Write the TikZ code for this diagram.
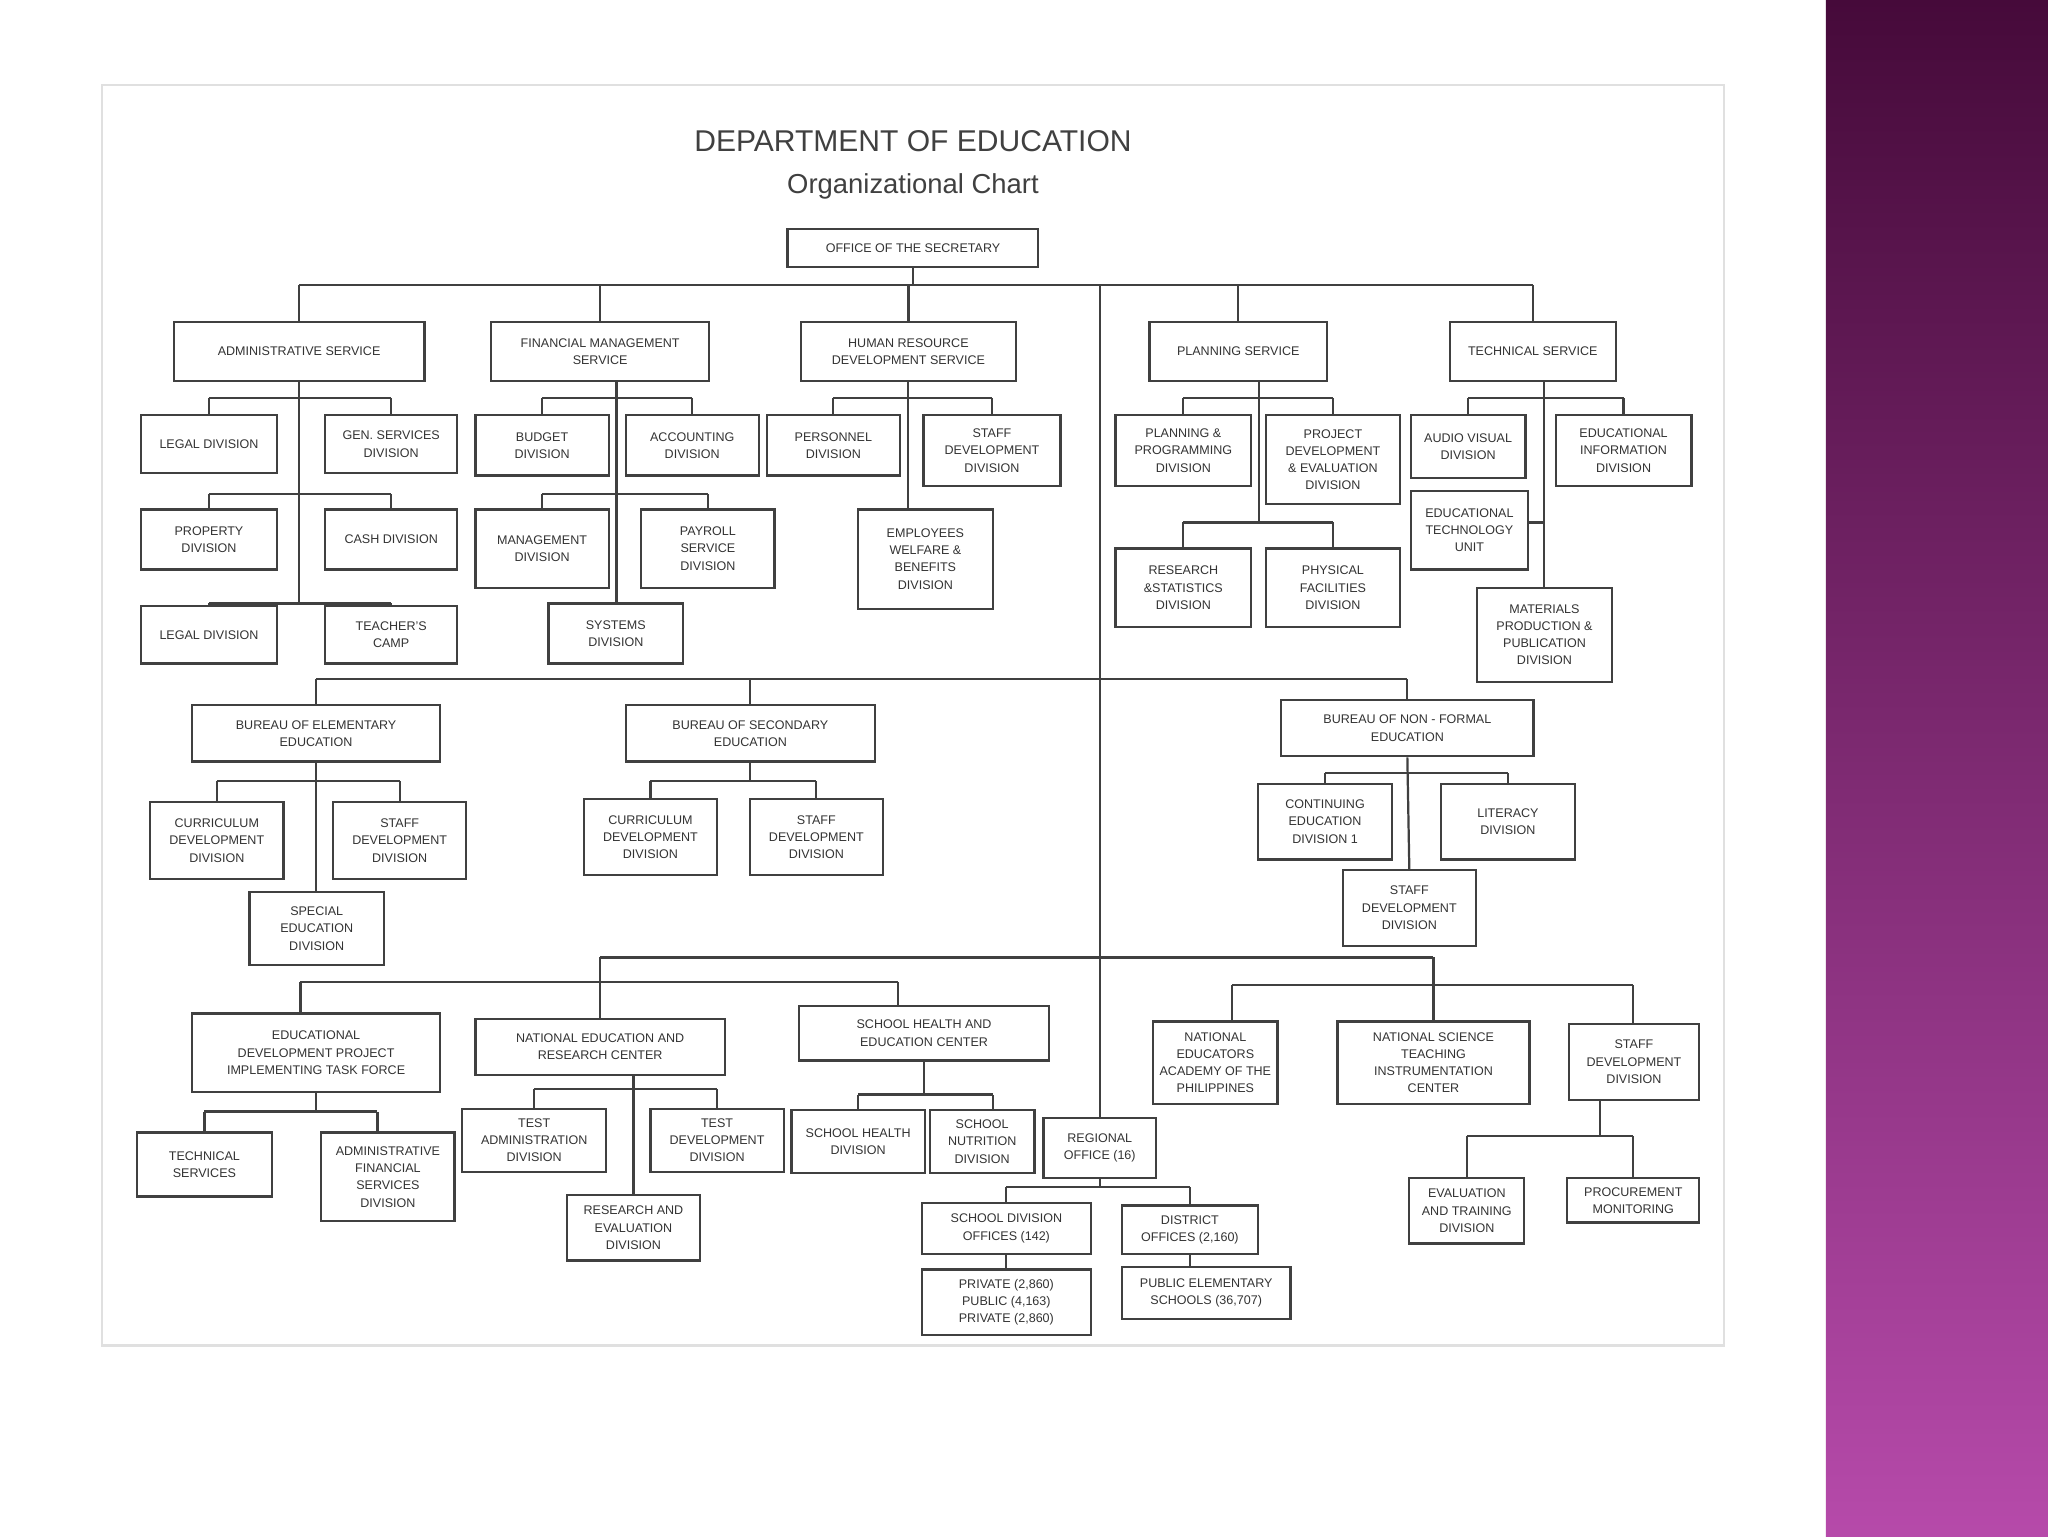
\documentclass[tikz,border=0pt]{standalone}
\usepackage{fontspec}
\setmainfont{Liberation Sans}
\begin{document}
\begin{tikzpicture}[x=1pt,y=-1pt,
  box/.style={draw=black!75,line width=1.7pt,fill=white,align=center,inner sep=1pt,
    font=\fontsize{9.6}{13.2}\selectfont,text=black!80},
  ln/.style={draw=black!75,line width=1.7pt}]
\newcommand\bx[6]{\node[box,minimum width=#4pt,minimum height=#5pt] (#1) at (#2,#3) {#6};}
\useasboundingbox (0,0) rectangle (1568,1176);
\fill[white] (0,0) rectangle (1568,1176);
\shade[top color={rgb,255:red,70;green,10;blue,58},bottom color={rgb,255:red,182;green,74;blue,170}] (1398,0) rectangle (1568,1176);
\draw[black!12,line width=2pt] (78,65) rectangle (1320,1030);
\node[text=black!75,font=\fontsize{23}{26}\selectfont] (t1) at (699,108) {DEPARTMENT OF EDUCATION};
\node[text=black!75,font=\fontsize{21}{24}\selectfont] (t2) at (699,143) {Organizational Chart};
\coordinate (tb) at (0,218);
\coordinate (b305) at (0,305);
\coordinate (b378) at (0,378);
\coordinate (b462) at (0,462);
\coordinate (b400) at (0,400);
\coordinate (b520) at (0,520);
\coordinate (b598) at (0,598);
\coordinate (b592) at (0,592);
\coordinate (b733) at (0,733);
\coordinate (b752) at (0,752);
\coordinate (b754) at (0,754);
\coordinate (b851) at (0,851);
\coordinate (b834) at (0,834);
\coordinate (b838) at (0,838);
\coordinate (b909) at (0,909);
\coordinate (b870) at (0,870);
\coordinate (xfin) at (472,0);
\coordinate (xhr) at (695,0);
\coordinate (xpl) at (964,0);
\coordinate (xte) at (1182,0);
\coordinate (xnerc) at (485,0);
\coordinate (xsd5) at (1225,0);
\bx{sec}{699}{190}{192}{29}{OFFICE OF THE SECRETARY}
\bx{adm}{229}{269}{192}{45}{ADMINISTRATIVE SERVICE}
\bx{fin}{459.5}{269}{167}{45}{FINANCIAL MANAGEMENT\\SERVICE}
\bx{hr}{695.5}{269}{165}{45}{HUMAN RESOURCE\\DEVELOPMENT SERVICE}
\bx{plan}{948}{269}{136}{45}{PLANNING SERVICE}
\bx{tech}{1173.5}{269}{127}{45}{TECHNICAL SERVICE}
\bx{legA}{160}{340}{104}{44}{LEGAL DIVISION}
\bx{gen}{299.5}{340}{101}{44}{GEN. SERVICES\\DIVISION}
\bx{prop}{160}{413}{104}{46}{PROPERTY\\DIVISION}
\bx{cash}{299.5}{413}{101}{46}{CASH DIVISION}
\bx{legB}{160}{486}{104}{44}{LEGAL DIVISION}
\bx{teach}{299.5}{486}{101}{44}{TEACHER'S\\CAMP}
\bx{bud}{415}{341}{102}{46}{BUDGET\\DIVISION}
\bx{acct}{530}{341}{102}{46}{ACCOUNTING\\DIVISION}
\bx{mgmt}{415}{420}{102}{60}{MANAGEMENT\\DIVISION}
\bx{pay}{542}{420}{102}{60}{PAYROLL\\SERVICE\\DIVISION}
\bx{sys}{471.5}{485}{103}{46}{SYSTEMS\\DIVISION}
\bx{pers}{638}{341}{102}{46}{PERSONNEL\\DIVISION}
\bx{sdA}{759.5}{345}{105}{54}{STAFF\\DEVELOPMENT\\DIVISION}
\bx{emp}{708.5}{428}{103}{76}{EMPLOYEES\\WELFARE \&\\BENEFITS\\DIVISION}
\bx{pp}{906}{345}{104}{54}{PLANNING \&\\PROGRAMMING\\DIVISION}
\bx{pde}{1020.5}{352}{103}{68}{PROJECT\\DEVELOPMENT\\\& EVALUATION\\DIVISION}
\bx{rs}{906}{450}{104}{60}{RESEARCH\\\&STATISTICS\\DIVISION}
\bx{pf}{1020.5}{450}{103}{60}{PHYSICAL\\FACILITIES\\DIVISION}
\bx{av}{1124}{342}{88}{48}{AUDIO VISUAL\\DIVISION}
\bx{ei}{1243}{345}{104}{54}{EDUCATIONAL\\INFORMATION\\DIVISION}
\bx{et}{1125}{406}{90}{60}{EDUCATIONAL\\TECHNOLOGY\\UNIT}
\bx{mpp}{1182.5}{486}{103}{72}{MATERIALS\\PRODUCTION \&\\PUBLICATION\\DIVISION}
\bx{bel}{242}{561.5}{190}{43}{BUREAU OF ELEMENTARY\\EDUCATION}
\bx{bse}{574.5}{561.5}{191}{43}{BUREAU OF SECONDARY\\EDUCATION}
\bx{bnf}{1077.5}{557.5}{193}{43}{BUREAU OF NON - FORMAL\\EDUCATION}
\bx{cdA}{166}{643.5}{102}{59}{CURRICULUM\\DEVELOPMENT\\DIVISION}
\bx{sdB}{306}{643.5}{102}{59}{STAFF\\DEVELOPMENT\\DIVISION}
\bx{sped}{242.5}{711}{103}{56}{SPECIAL\\EDUCATION\\DIVISION}
\bx{cdB}{498}{641}{102}{58}{CURRICULUM\\DEVELOPMENT\\DIVISION}
\bx{sdC}{625}{641}{102}{58}{STAFF\\DEVELOPMENT\\DIVISION}
\bx{ce}{1014.5}{629}{103}{58}{CONTINUING\\EDUCATION\\DIVISION 1}
\bx{lit}{1154.5}{629}{103}{58}{LITERACY\\DIVISION}
\bx{sdD}{1079}{695}{102}{58}{STAFF\\DEVELOPMENT\\DIVISION}
\bx{edp}{242}{806}{190}{60}{EDUCATIONAL\\DEVELOPMENT PROJECT\\IMPLEMENTING TASK FORCE}
\bx{nerc}{459.5}{801.5}{191}{43}{NATIONAL EDUCATION AND\\RESEARCH CENTER}
\bx{shec}{707.5}{791}{191}{42}{SCHOOL HEALTH AND\\EDUCATION CENTER}
\bx{nea}{930.5}{813.5}{95}{63}{NATIONAL\\EDUCATORS\\ACADEMY OF THE\\PHILIPPINES}
\bx{nsti}{1097.5}{813.5}{147}{63}{NATIONAL SCIENCE\\TEACHING\\INSTRUMENTATION\\CENTER}
\bx{sdE}{1251}{813}{100}{58}{STAFF\\DEVELOPMENT\\DIVISION}
\bx{ts}{156.5}{891.5}{103}{49}{TECHNICAL\\SERVICES}
\bx{afs}{297}{901}{102}{68}{ADMINISTRATIVE\\FINANCIAL\\SERVICES\\DIVISION}
\bx{ta}{409}{873}{110}{48}{TEST\\ADMINISTRATION\\DIVISION}
\bx{td}{549}{873}{102}{48}{TEST\\DEVELOPMENT\\DIVISION}
\bx{re}{485}{940}{102}{50}{RESEARCH AND\\EVALUATION\\DIVISION}
\bx{shd}{657}{874}{102}{48}{SCHOOL HEALTH\\DIVISION}
\bx{snd}{752}{874}{80}{48}{SCHOOL\\NUTRITION\\DIVISION}
\bx{reg}{842}{879}{86}{46}{REGIONAL\\OFFICE (16)}
\bx{sdo}{770.5}{940.5}{129}{39}{SCHOOL DIVISION\\OFFICES (142)}
\bx{do}{911}{941.5}{104}{37}{DISTRICT\\OFFICES (2,160)}
\bx{prv}{770.5}{997}{129}{50}{PRIVATE (2,860)\\PUBLIC (4,163)\\PRIVATE (2,860)}
\bx{pes}{923.5}{990}{129}{40}{PUBLIC ELEMENTARY\\SCHOOLS (36,707)}
\bx{etd}{1123}{927}{88}{50}{EVALUATION\\AND TRAINING\\DIVISION}
\bx{pm}{1250.5}{919}{101}{34}{PROCUREMENT\\MONITORING}
\begin{scope}[ln]
\draw (sec.south) -- (sec.south |- tb);
\draw (adm.north |- tb) -- (tech.north |- tb);
\foreach \n in {adm,fin,hr,plan,tech} \draw (\n.north) -- (\n.north |- tb);
\draw (reg.north) -- (reg.north |- tb);
\draw (adm.south) -- (adm.south |- b462);
\draw (legA.north |- b305) -- (gen.north |- b305);
\draw (legA.north) -- (legA.north |- b305); \draw (gen.north) -- (gen.north |- b305);
\draw (prop.north |- b378) -- (cash.north |- b378);
\draw (prop.north) -- (prop.north |- b378); \draw (cash.north) -- (cash.north |- b378);
\draw (legB.north |- b462) -- (teach.north |- b462);
\draw (legB.north) -- (legB.north |- b462); \draw (teach.north) -- (teach.north |- b462);
\draw (fin.south -| xfin) -- (sys.north -| xfin);
\draw (bud.north |- b305) -- (acct.north |- b305);
\draw (bud.north) -- (bud.north |- b305); \draw (acct.north) -- (acct.north |- b305);
\draw (mgmt.north |- b378) -- (pay.north |- b378);
\draw (mgmt.north) -- (mgmt.north |- b378); \draw (pay.north) -- (pay.north |- b378);
\draw (hr.south -| xhr) -- (emp.north -| xhr);
\draw (pers.north |- b305) -- (sdA.north |- b305);
\draw (pers.north) -- (pers.north |- b305); \draw (sdA.north) -- (sdA.north |- b305);
\draw (plan.south -| xpl) -- (b400 -| xpl);
\draw (pp.north |- b305) -- (pde.north |- b305);
\draw (pp.north) -- (pp.north |- b305); \draw (pde.north) -- (pde.north |- b305);
\draw (rs.north |- b400) -- (pf.north |- b400);
\draw (rs.north) -- (rs.north |- b400); \draw (pf.north) -- (pf.north |- b400);
\draw (tech.south -| xte) -- (mpp.north -| xte);
\draw (av.north |- b305) -- (ei.north |- b305);
\draw (av.north) -- (av.north |- b305); \draw (ei.north) -- (ei.north |- b305);
\draw (et.east |- b400) -- (b400 -| xte);
\draw (bel.north |- b520) -- (bnf.north |- b520);
\foreach \n in {bel,bse,bnf} \draw (\n.north) -- (\n.north |- b520);
\draw (bel.south) -- (sped.north -| bel.south);
\draw (cdA.north |- b598) -- (sdB.north |- b598);
\draw (cdA.north) -- (cdA.north |- b598); \draw (sdB.north) -- (sdB.north |- b598);
\draw (bse.south) -- (bse.south |- b598);
\draw (cdB.north |- b598) -- (sdC.north |- b598);
\draw (cdB.north) -- (cdB.north |- b598); \draw (sdC.north) -- (sdC.north |- b598);
\draw (bnf.south) -- (sdD.north);
\draw (ce.north |- b592) -- (lit.north |- b592);
\draw (ce.north) -- (ce.north |- b592); \draw (lit.north) -- (lit.north |- b592);
\draw (nerc.north |- b733) -- (nsti.north |- b733);
\draw (nerc.north) -- (nerc.north |- b733);
\draw (nsti.north |- b733) -- (nsti.north |- b754);
\draw ([xshift=-12pt]edp.north |- b752) -- ([xshift=-20pt]shec.north |- b752);
\draw ([xshift=-12pt]edp.north) -- ([xshift=-12pt]edp.north |- b752);
\draw ([xshift=-20pt]shec.north) -- ([xshift=-20pt]shec.north |- b752);
\draw ([xshift=13pt]nea.north |- b754) -- ([xshift=-1pt]sdE.north |- b754);
\draw ([xshift=13pt]nea.north) -- ([xshift=13pt]nea.north |- b754);
\draw (nsti.north) -- (nsti.north |- b754);
\draw ([xshift=-1pt]sdE.north) -- ([xshift=-1pt]sdE.north |- b754);
\draw (edp.south) -- (edp.south |- b851);
\draw (ts.north |- b851) -- ([xshift=-8pt]afs.north |- b851);
\draw (ts.north) -- (ts.north |- b851); \draw ([xshift=-8pt]afs.north) -- ([xshift=-8pt]afs.north |- b851);
\draw (nerc.south -| xnerc) -- (re.north -| xnerc);
\draw (ta.north |- b834) -- (td.north |- b834);
\draw (ta.north) -- (ta.north |- b834); \draw (td.north) -- (td.north |- b834);
\draw (shec.south) -- (shec.south |- b838);
\draw (shd.north |- b838) -- ([xshift=8pt]snd.north |- b838);
\draw (shd.north) -- (shd.north |- b838); \draw ([xshift=8pt]snd.north) -- ([xshift=8pt]snd.north |- b838);
\draw (reg.south) -- (reg.south |- b909);
\draw (sdo.north |- b909) -- (do.north |- b909);
\draw (sdo.north) -- (sdo.north |- b909); \draw (do.north) -- (do.north |- b909);
\draw (sdo.south) -- (prv.north);
\draw (do.south) -- (do.south |- pes.north);
\draw (sdE.south -| xsd5) -- (b870 -| xsd5);
\draw (etd.north |- b870) -- (pm.north |- b870);
\draw (etd.north) -- (etd.north |- b870); \draw (pm.north) -- (pm.north |- b870);
\end{scope}
\end{tikzpicture}
\end{document}
